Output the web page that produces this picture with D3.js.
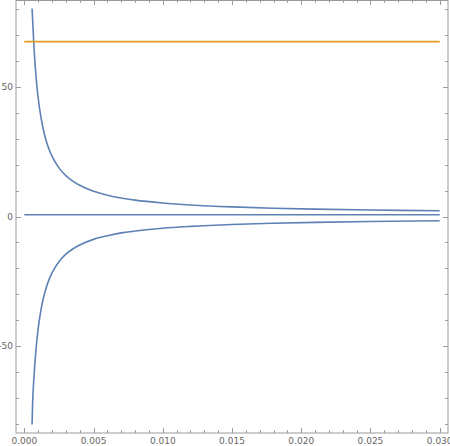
<!DOCTYPE html>
<html><head><meta charset="utf-8">
<script src="https://cdn.jsdelivr.net/npm/d3@7"></script>
<style>body{margin:0;background:#fff}svg{display:block}</style>
</head><body>
<svg id="c" width="450" height="446"></svg>
<script>
// Data
const curveX = [0.00056,0.0006,0.0007,0.0008,0.0009,0.001,0.0012,0.0014,0.0016,0.0018,0.002,0.0025,0.003,0.0035,0.004,0.005,0.006,0.007,0.008,0.01,0.012,0.015,0.018,0.021,0.025,0.03];
const upperY = [80,75.7,65.0,57.0,50.7,45.7,38.2,32.8,28.8,25.7,23.2,18.7,15.7,13.6,12.0,9.7,8.2,7.1,6.3,5.2,4.45,3.7,3.2,2.84,2.5,2.2];
const lowerY = [-80,-71.9,-61.6,-54.0,-48.0,-43.2,-36.0,-30.9,-27.1,-24.1,-21.7,-17.4,-14.5,-12.5,-10.95,-8.8,-7.4,-6.3,-5.6,-4.5,-3.8,-3.07,-2.6,-2.25,-1.92,-1.63];
const middleX = [0, 0.03];
const middleY = [0.7, 0.7];
const orangeX = [0, 0.03];
const orangeY = [67.3, 67.3];
const xMajor = [0,0.005,0.01,0.015,0.02,0.025,0.03];
const xLabels = ["0.000","0.005","0.010","0.015","0.020","0.025","0.030"];
const yMajor = [-50,0,50];
const yLabels = ["-50","0","50"];

const L=16, R=448, T=0, B=433;
const x = d3.scaleLinear().domain([-0.0006,0.0306]).range([L,R]);
const y = d3.scaleLinear().domain([-83.3,83.3]).range([B,T]);
const svg = d3.select("#c");

svg.append("clipPath").attr("id","cl").append("rect")
  .attr("x",L).attr("y",T).attr("width",R-L).attr("height",B-T);

const line = d3.line().x(d=>x(d[0])).y(d=>y(d[1])).curve(d3.curveMonotoneX);
const g = svg.append("g").attr("clip-path","url(#cl)");
const blue="#5E81B5", orange="#E19C24";
function draw(xs,ys,col){
  g.append("path").datum(xs.map((v,i)=>[v,ys[i]]))
   .attr("d",line).attr("fill","none").attr("stroke",col).attr("stroke-width",1.6);
}
draw(curveX,upperY,blue);
draw(curveX,lowerY,blue);
draw(middleX,middleY,blue);
draw(orangeX,orangeY,orange);

// frame
const frameCol="#9a9a9a";
svg.append("rect").attr("x",L).attr("y",T+0.5).attr("width",R-L).attr("height",B-T-0.5)
  .attr("fill","none").attr("stroke",frameCol).attr("stroke-width",1);

// ticks
const xMinor = d3.range(0,0.0305,0.001).filter(v=>!xMajor.some(m=>Math.abs(m-v)<1e-9));
const yMinor = d3.range(-80,81,10).filter(v=>!yMajor.includes(v));
const tg = svg.append("g").attr("stroke",frameCol).attr("stroke-width",1);
function xt(vals,len){
  vals.forEach(v=>{
    const px=Math.round(x(v))+0.5;
    tg.append("line").attr("x1",px).attr("x2",px).attr("y1",B).attr("y2",B-len);
    tg.append("line").attr("x1",px).attr("x2",px).attr("y1",T).attr("y2",T+len);
  });
}
function yt(vals,len){
  vals.forEach(v=>{
    const py=Math.round(y(v))+0.5;
    tg.append("line").attr("y1",py).attr("y2",py).attr("x1",L).attr("x2",L+len);
    tg.append("line").attr("y1",py).attr("y2",py).attr("x1",R).attr("x2",R-len);
  });
}
xt(xMajor,5); xt(xMinor,2.8);
yt(yMajor,5); yt(yMinor,2.8);

// labels
const lab = svg.append("g").attr("font-family","'DejaVu Sans', sans-serif").attr("font-size",9).attr("fill","#666");
xMajor.forEach((v,i)=>{
  lab.append("text").attr("x",x(v)).attr("y",B+11).attr("text-anchor","middle").text(xLabels[i]);
});
yMajor.forEach((v,i)=>{
  lab.append("text").attr("x",L-3).attr("y",y(v)+3).attr("text-anchor","end").text(yLabels[i]);
});
</script>
</body></html>
